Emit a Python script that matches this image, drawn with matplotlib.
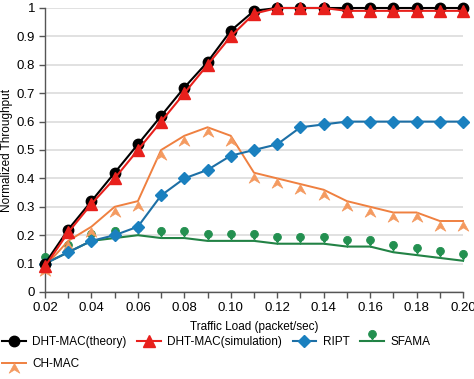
import matplotlib
matplotlib.use("Agg")
import matplotlib.pyplot as plt
import numpy as np
from matplotlib.path import Path
from matplotlib.ticker import MultipleLocator, FuncFormatter

plt.rcParams['font.family'] = ['Liberation Sans', 'DejaVu Sans']

# ---- data ----
load = [0.02, 0.03, 0.04, 0.05, 0.06, 0.07, 0.08, 0.09, 0.10, 0.11,
        0.12, 0.13, 0.14, 0.15, 0.16, 0.17, 0.18, 0.19, 0.20]
dht_theory = [0.10, 0.22, 0.32, 0.42, 0.52, 0.62, 0.72, 0.81, 0.92, 0.99,
              1.00, 1.00, 1.00, 1.00, 1.00, 1.00, 1.00, 1.00, 1.00]
dht_sim = [0.09, 0.21, 0.31, 0.40, 0.50, 0.60, 0.70, 0.80, 0.90, 0.98,
           1.00, 1.00, 1.00, 0.99, 0.99, 0.99, 0.99, 0.99, 0.99]
ript = [0.10, 0.14, 0.18, 0.20, 0.23, 0.34, 0.40, 0.43, 0.48, 0.50,
        0.52, 0.58, 0.59, 0.60, 0.60, 0.60, 0.60, 0.60, 0.60]
ch_mac = [0.09, 0.18, 0.23, 0.30, 0.32, 0.50, 0.55, 0.58, 0.55, 0.42,
          0.40, 0.38, 0.36, 0.32, 0.30, 0.28, 0.28, 0.25, 0.25]
sfama = [0.10, 0.14, 0.18, 0.19, 0.20, 0.19, 0.19, 0.18, 0.18, 0.18,
         0.17, 0.17, 0.17, 0.16, 0.16, 0.14, 0.13, 0.12, 0.11]
labels = ['DHT-MAC(theory)', 'DHT-MAC(simulation)', 'RIPT', 'SFAMA', 'CH-MAC']

# ---- custom markers ----
# pin: circle on top, thin stem whose tip is the data point
circ = Path.circle(center=(0, 0.65), radius=0.35)
stem = Path([(-0.1, 0.45), (0, 0), (0.1, 0.45), (-0.1, 0.45)],
            [Path.MOVETO, Path.LINETO, Path.LINETO, Path.CLOSEPOLY])
pin = Path.make_compound_path(circ, stem)
# chevron arrowhead with apex at the data point
chev = Path([(0, 0), (0.55, -1.0), (0, -0.66), (-0.55, -1.0), (0, 0)],
            [Path.MOVETO, Path.LINETO, Path.LINETO, Path.LINETO, Path.CLOSEPOLY])

fig = plt.figure(figsize=(4.74, 3.79), dpi=100)
ax = fig.add_axes([45/474, 1-292/379, (463-45)/474, (292-8)/379])

h_th, = ax.plot(load, dht_theory, color='black', lw=1.5, marker='o', ms=7.5,
                mfc='black', mec='black', clip_on=False, zorder=5)
h_sim, = ax.plot(load, dht_sim, color='#e8201c', lw=1.5, marker='^', ms=8,
                 mfc='#e8201c', mec='#e8201c', clip_on=False, zorder=6)
h_ript, = ax.plot(load, ript, color='#1d6fa5', lw=1.5, marker='D', ms=6.2,
                  mfc='#1a80bf', mec='#1a80bf', clip_on=False, zorder=4)
h_sf, = ax.plot(load, sfama, color='#228245', lw=1.5, marker=pin, ms=16,
                mfc='#239050', mec='#239050', mew=0.6, clip_on=False, zorder=3)
h_ch, = ax.plot(load, ch_mac, color='#ef8040', lw=1.4, marker=chev, ms=14,
                mfc='#f49a60', mec='#f49a60', mew=0.5, clip_on=False, zorder=3)

ax.set_xlim(0.02, 0.20)
ax.set_ylim(0, 1)
ax.xaxis.set_major_locator(MultipleLocator(0.02))
ax.xaxis.set_minor_locator(MultipleLocator(0.01))
ax.yaxis.set_major_locator(MultipleLocator(0.1))
ax.xaxis.set_major_formatter(FuncFormatter(lambda v, p: f'{v:.2f}'))
ax.yaxis.set_major_formatter(FuncFormatter(lambda v, p: f'{round(v, 1):g}'))
ax.tick_params(axis='both', which='both', direction='out', length=4,
               width=1, color='#555555', labelsize=9.5, pad=3)
ax.tick_params(axis='x', which='minor', length=4)

ax.grid(axis='y', color='#dcdcdc', lw=1.2)
ax.set_axisbelow(True)
for s in ['top', 'right']:
    ax.spines[s].set_visible(False)
for s in ['left', 'bottom']:
    ax.spines[s].set_color('#555555')
    ax.spines[s].set_linewidth(1.0)

ax.set_xlabel('Traffic Load (packet/sec)', fontsize=8.5, labelpad=5)
ax.set_ylabel('Normalized Throughput', fontsize=8.5)
ax.yaxis.set_label_coords(-0.076, 0.5)

handles = [h_th, h_ch, h_sim, h_ript, h_sf]
labs = [labels[0], labels[4], labels[1], labels[2], labels[3]]
fig.legend(handles, labs, loc='upper left', bbox_to_anchor=(0.004, 1-336/379),
           ncol=4, frameon=False, fontsize=8.5, handlelength=2.0,
           handletextpad=0.55, columnspacing=0.9, labelspacing=0.85,
           borderaxespad=0, borderpad=0)

fig.savefig('out.png', dpi=100)
